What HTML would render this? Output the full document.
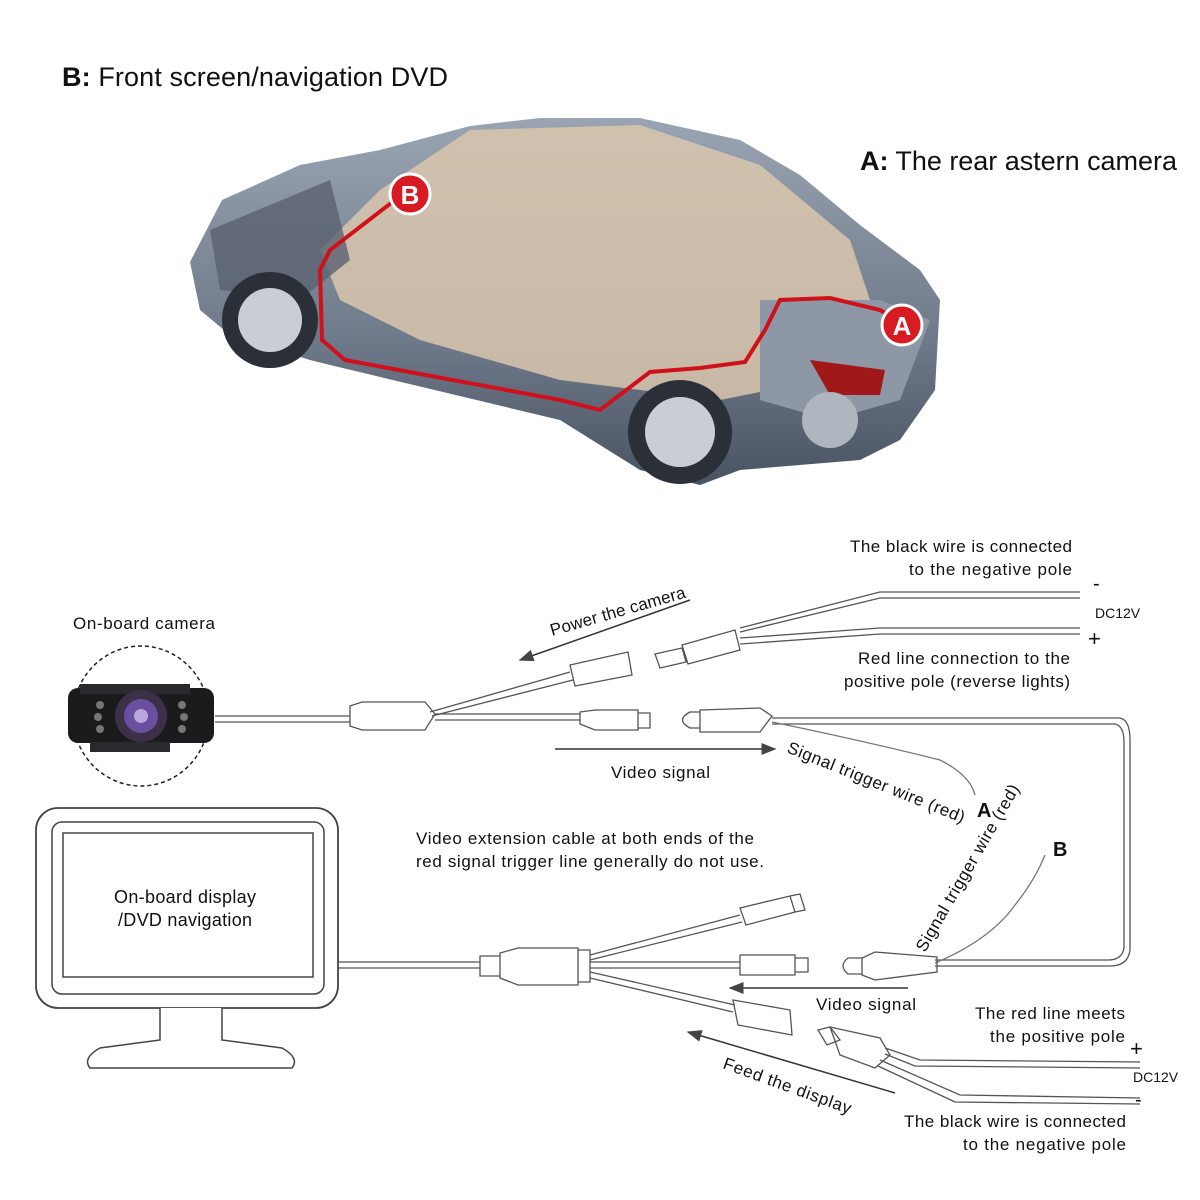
<!DOCTYPE html>
<html><head><meta charset="utf-8"><style>
html,body{margin:0;padding:0;background:#fff;}
svg{display:block;}
text{font-family:"Liberation Sans",sans-serif;fill:#111;}
</style></head><body>
<svg width="1200" height="1200" viewBox="0 0 1200 1200" xmlns="http://www.w3.org/2000/svg">
<defs>
<linearGradient id="body" x1="0" y1="0" x2="0" y2="1">
<stop offset="0" stop-color="#9aa4b2"/><stop offset="0.6" stop-color="#6f7a8a"/><stop offset="1" stop-color="#4a5362"/>
</linearGradient>
<marker id="ar" markerWidth="10" markerHeight="8" refX="9" refY="4" orient="auto"><path d="M0,0 L10,4 L0,8 Z" fill="#444"/></marker>
</defs>
<text x="62" y="86" font-size="27" textLength="386"><tspan font-weight="bold">B:</tspan> Front screen/navigation DVD</text>
<text x="860" y="170" font-size="27" textLength="317"><tspan font-weight="bold">A:</tspan> The rear astern camera</text>

<!-- car -->
<path d="M190,262 L222,200 L300,165 L380,150 L470,126 L540,118 L640,118 L740,140 L800,175 L860,225 L920,270 L940,300 L935,390 L900,440 L860,460 L740,470 L700,485 L640,470 L560,420 L330,365 L310,360 L230,335 L200,310 Z" fill="url(#body)"/>
<path d="M470,130 L640,125 L760,165 L850,240 L870,300 L820,380 L720,400 L560,380 L420,340 L340,300 L320,250 L380,190 Z" fill="#d9c7ad" opacity="0.85"/>
<path d="M210,230 L330,180 L350,260 L300,300 L220,290 Z" fill="#5a6270" opacity="0.8"/>
<path d="M760,300 L880,300 L930,320 L900,400 L830,420 L760,400 Z" fill="#8d97a6"/>
<path d="M810,360 L885,370 L880,395 L830,395 Z" fill="#a01818"/>
<circle cx="270" cy="320" r="48" fill="#2a2f38"/><circle cx="270" cy="320" r="32" fill="#c9ced6"/>
<circle cx="680" cy="432" r="52" fill="#2a2f38"/><circle cx="680" cy="432" r="35" fill="#c9ced6"/>
<circle cx="830" cy="420" r="28" fill="#b0b6bf"/>
<path d="M408,196 L395,200 L330,250 L320,270 L322,340 L345,360 L560,400 L600,410 L650,372 L700,368 L745,362 L765,330 L780,300 L830,298 L880,310 L900,322" fill="none" stroke="#d0101a" stroke-width="4"/>
<circle cx="410" cy="194" r="20" fill="#d81a22" stroke="#fff" stroke-width="3"/>
<text x="410" y="204" font-size="26" font-weight="bold" text-anchor="middle" style="fill:#fff">B</text>
<circle cx="902" cy="325" r="20" fill="#d81a22" stroke="#fff" stroke-width="3"/>
<text x="902" y="335" font-size="26" font-weight="bold" text-anchor="middle" style="fill:#fff">A</text>

<!-- top wiring -->
<g fill="none" stroke="#555" stroke-width="1.3">
<path d="M1080,592 L880,592 L740,628 M1080,598 L880,598 L740,632"/>
<path d="M1080,628 L880,628 L740,638 M1080,634 L880,634 L740,644"/>
<path d="M682,645 L735,630 L740,650 L688,664 Z M655,654 L682,648 L686,662 L660,668 Z"/>
<path d="M570,665 L628,652 L632,675 L575,686 Z M430,712 L570,672 M432,716 L573,680"/>
<path d="M215,716 L350,716 M215,722 L350,722"/>
<path d="M350,706 L362,702 L425,702 L435,714 L425,730 L362,730 L350,726 Z"/>
<path d="M435,714 L580,714 M435,720 L580,720 M580,712 L595,710 L638,710 L638,730 L595,730 L580,724 Z M638,713 L650,713 L650,728 L638,728"/>
<path d="M690,712 L700,712 L700,728 L690,728 Q675,720 690,712 Z M700,710 L760,708 L772,716 L760,732 L700,732 Z"/>
<path d="M772,718 L1120,718 Q1130,720 1130,740 L1130,950 Q1128,966 1110,966 L935,966 M772,724 L1115,724 Q1124,726 1124,742 L1124,948 Q1122,960 1108,960 L935,960"/>
<path d="M772,722 Q860,740 940,760 Q970,775 975,795" stroke="#777"/>
<path d="M935,963 Q990,940 1015,905 Q1035,880 1045,855" stroke="#777"/>
<path d="M937,957 L875,952 L862,958 L862,975 L875,980 L937,972 Z M862,958 L848,958 Q838,966 848,974 L862,974"/>
</g>
<line x1="690" y1="600" x2="520" y2="660" stroke="#333" stroke-width="1.5" marker-end="url(#ar)"/>
<line x1="555" y1="749" x2="775" y2="749" stroke="#333" stroke-width="1.5" marker-end="url(#ar)"/>
<text x="1072" y="552" font-size="17" text-anchor="end" textLength="222">The black wire is connected</text>
<text x="1072" y="575" font-size="17" text-anchor="end" textLength="163">to the negative pole</text>
<text x="1093" y="590" font-size="20">-</text>
<text x="1095" y="618" font-size="14">DC12V</text>
<text x="1088" y="646" font-size="22">+</text>
<text x="1070" y="664" font-size="17" text-anchor="end" textLength="212">Red line connection to the</text>
<text x="1070" y="687" font-size="17" text-anchor="end" textLength="226">positive pole (reverse lights)</text>
<text x="552" y="636" font-size="17" transform="rotate(-16 552 636)" textLength="140">Power the camera</text>
<text x="73" y="629" font-size="17" textLength="142">On-board camera</text>
<text x="611" y="778" font-size="17" textLength="99">Video signal</text>
<text x="786" y="752" font-size="17" transform="rotate(22 786 752)" textLength="190">Signal trigger wire (red)</text>
<text x="977" y="817" font-size="20" font-weight="bold">A</text>
<text x="1053" y="856" font-size="20" font-weight="bold">B</text>
<text x="925" y="953" font-size="17" transform="rotate(-60 925 953)" textLength="190">Signal trigger wire (red)</text>
<text x="416" y="844" font-size="17" textLength="338">Video extension cable at both ends of the</text>
<text x="416" y="867" font-size="17" textLength="348">red signal trigger line generally do not use.</text>

<!-- camera -->
<ellipse cx="141" cy="716" rx="68" ry="70" fill="none" stroke="#222" stroke-width="1.5" stroke-dasharray="4,3"/>
<rect x="68" y="688" width="146" height="55" rx="10" fill="#1b1b1e"/>
<rect x="80" y="684" width="110" height="10" fill="#2a2a2e"/>
<rect x="90" y="742" width="80" height="10" fill="#2a2a2e"/>
<circle cx="141" cy="716" r="26" fill="#3c3048"/><circle cx="141" cy="716" r="17" fill="#6a4fa0"/><circle cx="141" cy="716" r="7" fill="#b9a6dc"/>
<g fill="#777"><circle cx="100" cy="705" r="4"/><circle cx="98" cy="717" r="4"/><circle cx="100" cy="729" r="4"/><circle cx="182" cy="705" r="4"/><circle cx="184" cy="717" r="4"/><circle cx="182" cy="729" r="4"/></g>

<!-- monitor -->
<rect x="36" y="808" width="302" height="200" rx="22" fill="#fff" stroke="#444" stroke-width="1.8"/>
<rect x="52" y="822" width="272" height="172" rx="10" fill="none" stroke="#444" stroke-width="1.5"/>
<rect x="63" y="833" width="250" height="144" fill="#fff" stroke="#444" stroke-width="1.5"/>
<path d="M160,1008 L160,1040 L100,1048 Q82,1058 90,1068 L292,1068 Q300,1058 282,1048 L222,1040 L222,1008" fill="#fff" stroke="#444" stroke-width="1.5"/>
<text x="185" y="903" font-size="18" text-anchor="middle" textLength="142">On-board display</text>
<text x="185" y="926" font-size="18" text-anchor="middle" textLength="134">/DVD navigation</text>

<!-- bottom wiring -->
<g fill="none" stroke="#555" stroke-width="1.3">
<path d="M338,962 L480,962 M338,968 L480,968"/>
<path d="M480,956 L500,956 L500,976 L480,976 Z M500,953 L518,948 L578,948 L578,985 L518,985 L500,978 Z M578,950 L590,950 L590,982 L578,982 Z"/>
<path d="M590,955 L740,915 M590,960 L742,922 M740,908 L790,896 L795,912 L746,925 Z M790,896 L800,894 L805,910 L795,912"/>
<path d="M590,962 L740,962 M590,968 L740,968 M740,955 L795,955 L795,975 L740,975 Z M795,958 L808,958 L808,972 L795,972"/>
<path d="M590,972 L735,1005 M590,978 L733,1012 M733,1000 L790,1010 L792,1035 L738,1025 Z"/>
<path d="M818,1030 L830,1027 L840,1040 L827,1045 Z M830,1027 L880,1038 L890,1055 L875,1068 L840,1055 Z M885,1048 L920,1060 L1140,1062 M885,1054 L915,1066 L1140,1068 M880,1060 L960,1095 L1140,1098 M878,1066 L955,1102 L1140,1104"/>
</g>
<line x1="908" y1="988" x2="730" y2="988" stroke="#333" stroke-width="1.5" marker-end="url(#ar)"/>
<line x1="895" y1="1093" x2="688" y2="1032" stroke="#333" stroke-width="1.5" marker-end="url(#ar)"/>
<text x="816" y="1010" font-size="17" textLength="100">Video signal</text>
<text x="1125" y="1019" font-size="17" text-anchor="end" textLength="150">The red line meets</text>
<text x="1125" y="1042" font-size="17" text-anchor="end" textLength="135">the positive pole</text>
<text x="1130" y="1056" font-size="22">+</text>
<text x="1133" y="1082" font-size="14">DC12V</text>
<text x="1135" y="1106" font-size="20">-</text>
<text x="1126" y="1127" font-size="17" text-anchor="end" textLength="222">The black wire is connected</text>
<text x="1126" y="1150" font-size="17" text-anchor="end" textLength="163">to the negative pole</text>
<text x="722" y="1068" font-size="17" transform="rotate(20 722 1068)" textLength="135">Feed the display</text>
</svg>
</body></html>
